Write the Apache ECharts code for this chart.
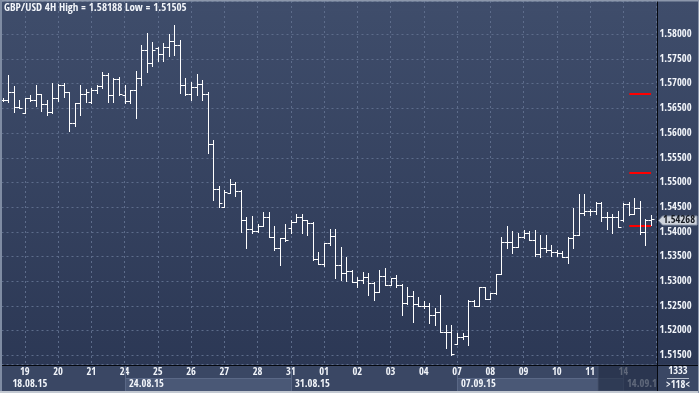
<!DOCTYPE html>
<html>
<head>
<meta charset="utf-8">
<title>GBP/USD 4H</title>
<script src="https://cdn.jsdelivr.net/npm/echarts@6/dist/echarts.min.js"></script>
<style>
html,body{margin:0;padding:0;background:#2c3855;overflow:hidden;}
#chart{width:699px;height:393px;background:linear-gradient(to bottom,#3f4d6b 0px,#2c3855 364px,#3a4764 365px,#3a4764 393px);}
</style>
</head>
<body>
<div id="chart"></div>
<script>
// ---------------- data ----------------
const symbolName = 'GBP/USD';
const timeframe = '4H';
const firstBar = 2;            // index of first visible 4H bar (day 18 starts at bar 0)
const barsPerDay = 6;
const dayLabels = ['18','19','20','21','24','25','26','27','28','31','01','02','03','04','07','08','09','10','11','14'];
const weekLabels = ['18.08.15','24.08.15','31.08.15','07.09.15','14.09.15'];
const weekStartBars = [0, 24, 54, 84, 114];
const topPriceLabel = 1.58;    // highest price label shown on the right scale

const openVals = [
1.5668,1.5668,1.5683,1.5652,1.5640,1.5672,1.5668,1.5679,1.5658,1.5643,
1.5672,1.5697,1.5683,1.5621,1.5660,1.5679,1.5663,1.5687,1.5695,1.5718,
1.5677,1.5709,1.5677,1.5664,1.5687,1.5712,1.5768,1.5741,1.5772,1.5760,
1.5774,1.5787,1.5778,1.5697,1.5679,1.5694,1.5699,1.5679,1.5578,1.5486,
1.5450,1.5478,1.5497,1.5483,1.5424,1.5405,1.5401,1.5412,1.5431,1.5390,
1.5367,1.5387,1.5407,1.5421,1.5430,1.5424,1.5419,1.5345,1.5336,1.5377,
1.5392,1.5333,1.5316,1.5320,1.5299,1.5303,1.5308,1.5296,1.5279,1.5310,
1.5293,1.5306,1.5293,1.5256,1.5270,1.5254,1.5250,1.5250,1.5232,1.5237,
1.5198,1.5198,1.5174,1.5188,1.5189,1.5261,1.5250,1.5288,1.5264,1.5276,
1.5314,1.5380,1.5380,1.5370,1.5389,1.5397,1.5384,1.5355,1.5367,1.5363,
1.5360,1.5358,1.5350,1.5387,1.5393,1.5438,1.5442,1.5442,1.5458,1.5431,
1.5430,1.5430,1.5425,1.5457,1.5437,1.5448,1.5400,1.5425];
const highVals = [
1.5672,1.5718,1.5695,1.5667,1.5672,1.5677,1.5697,1.5679,1.5667,1.5701,
1.5699,1.5701,1.5684,1.5660,1.5697,1.5689,1.5691,1.5697,1.5724,1.5721,
1.5711,1.5714,1.5697,1.5687,1.5726,1.5778,1.5802,1.5785,1.5775,1.5782,
1.5800,1.58188,1.5789,1.5711,1.5704,1.5719,1.5708,1.5684,1.5586,1.5492,
1.5485,1.5508,1.5502,1.5485,1.5431,1.5432,1.5417,1.5441,1.5441,1.5411,
1.5387,1.5416,1.5424,1.5436,1.5436,1.5425,1.5421,1.5360,1.5378,1.5406,
1.5406,1.5370,1.5349,1.5322,1.5309,1.5318,1.5316,1.5299,1.5322,1.5326,
1.5306,1.5313,1.5295,1.5288,1.5280,1.5269,1.5260,1.5256,1.5245,1.5272,
1.5212,1.5212,1.5196,1.5195,1.5262,1.5262,1.5288,1.5288,1.5276,1.5314,
1.5390,1.5412,1.5401,1.5397,1.5403,1.5402,1.5403,1.5394,1.5394,1.5374,
1.5363,1.5361,1.5389,1.5448,1.5477,1.5476,1.5446,1.5460,1.5460,1.5441,
1.5436,1.5443,1.5458,1.5460,1.5469,1.5463,1.5427,1.5434];
const lowVals = [
1.5665,1.5662,1.5643,1.5650,1.5640,1.5664,1.5654,1.5645,1.5637,1.5640,
1.5664,1.5674,1.5605,1.5615,1.5637,1.5662,1.5660,1.5681,1.5691,1.5662,
1.5662,1.5677,1.5660,1.5660,1.5630,1.5697,1.5723,1.5735,1.5745,1.5745,
1.5756,1.5759,1.5682,1.5677,1.5667,1.5677,1.5668,1.5560,1.5465,1.5451,
1.5450,1.5478,1.5473,1.5399,1.5368,1.5397,1.5400,1.5411,1.5390,1.5363,
1.5334,1.5382,1.5397,1.5420,1.5397,1.5394,1.5343,1.5336,1.5330,1.5374,
1.5307,1.5303,1.5300,1.5299,1.5289,1.5296,1.5272,1.5263,1.5278,1.5293,
1.5293,1.5288,1.5231,1.5255,1.5218,1.5250,1.5245,1.5215,1.5212,1.5198,
1.5164,1.51505,1.5173,1.5183,1.5171,1.5249,1.5250,1.5264,1.5264,1.5274,
1.5314,1.5367,1.5357,1.5370,1.5387,1.5384,1.5351,1.5349,1.5360,1.5351,
1.5351,1.5350,1.5338,1.5368,1.5393,1.5435,1.5434,1.5437,1.5423,1.5405,
1.5398,1.5409,1.5423,1.5434,1.5436,1.5396,1.5373,1.5414];
const closeVals = [
1.5668,1.5683,1.5652,1.5651,1.5672,1.5668,1.5679,1.5658,1.5643,1.5672,
1.5697,1.5683,1.5621,1.5660,1.5679,1.5683,1.5687,1.5696,1.5718,1.5677,
1.5709,1.5679,1.5664,1.5687,1.5712,1.5768,1.5741,1.5768,1.5760,1.5774,
1.5787,1.5778,1.5697,1.5679,1.5694,1.5699,1.5679,1.5578,1.5486,1.5459,
1.5481,1.5497,1.5483,1.5424,1.5405,1.5401,1.5412,1.5431,1.5390,1.5367,
1.5387,1.5384,1.5421,1.5430,1.5424,1.5419,1.5345,1.5336,1.5377,1.5392,
1.5333,1.5316,1.5320,1.5299,1.5303,1.5308,1.5296,1.5279,1.5310,1.5293,
1.5306,1.5293,1.5256,1.5270,1.5254,1.5250,1.5250,1.5232,1.5237,1.5198,
1.5198,1.5152,1.5188,1.5189,1.5261,1.5250,1.5288,1.5264,1.5276,1.5314,
1.5380,1.5380,1.5370,1.5389,1.5397,1.5384,1.5355,1.5367,1.5363,1.5360,
1.5358,1.5350,1.5387,1.5393,1.5438,1.5442,1.5442,1.5458,1.5431,1.5430,
1.5430,1.5409,1.5457,1.5437,1.5448,1.5400,1.5425,1.54268];

const levelLines = [1.5679, 1.5520, 1.5413];   // red horizontal levels
const levelFromBar = 115.1, levelToBar = 119.0;
const counterText = '1333';

// ---------------- layout / style ----------------
const FONT = "'Open Sans Condensed','Roboto Condensed','Liberation Sans',sans-serif";
const FS = 10.5;
const TXT = '#f2f5fa';
const GRIDC = '#5d6c8b';
const totalBars = dayLabels.length * barsPerDay;  // 120
const pxPerUnit = 4940;
const refPrice = 1.58, refPx = 34.3;
const gridTopPx = 1, gridBottomPx = 364.5;
const yMax = refPrice + (refPx - gridTopPx) / pxPerUnit;
const yMin = refPrice - (gridBottomPx - refPx) / pxPerUnit;

const rows = openVals.map((o, k) => [firstBar + k, o, highVals[k], lowVals[k], closeVals[k]]);
const hi = Math.max(...highVals), lo = Math.min(...lowVals);
const lastClose = closeVals[closeVals.length - 1];

function renderBar(params, api) {
  const i = api.value(0);
  const pO = api.coord([i, api.value(1)]);
  const pH = api.coord([i, api.value(2)]);
  const pL = api.coord([i, api.value(3)]);
  const pC = api.coord([i, api.value(4)]);
  const x = Math.round(pH[0]) + 0.5;
  const yo = Math.round(pO[1]) + 0.5, yc = Math.round(pC[1]) + 0.5;
  const yh = Math.round(pH[1]), yl = Math.round(pL[1]) + 1;
  const st = {stroke: '#ffffff', lineWidth: 1};
  return {type: 'group', children: [
    {type: 'line', shape: {x1: x, y1: yh, x2: x, y2: yl}, style: st},
    {type: 'line', shape: {x1: x - 3, y1: yo, x2: x + 0.5, y2: yo}, style: st},
    {type: 'line', shape: {x1: x - 0.5, y1: yc, x2: x + 3, y2: yc}, style: st}
  ]};
}

const mainTitle = {
  text: symbolName + ' ' + timeframe + ' High = ' + hi.toFixed(5) + ' Low = ' + lo.toFixed(5),
  left: 4, top: 2, padding: 0, z: 50,
  textStyle: {color: TXT, fontSize: 11, fontWeight: 'normal', fontFamily: FONT, lineHeight: 13}
};

const chart = echarts.init(document.getElementById('chart'), null, {renderer: 'canvas', width: 699, height: 393});
const option = {
  backgroundColor: 'transparent',
  animation: false,
  title: [mainTitle],
  grid: {left: -8.5, right: 42.5, top: gridTopPx, bottom: 393 - gridBottomPx, containLabel: false, outerBoundsMode: 'none'},
  xAxis: {
    type: 'value', min: 0, max: totalBars, interval: barsPerDay,
    axisLine: {show: false},
    axisTick: {show: false},
    axisLabel: {
      color: TXT, fontSize: FS, fontFamily: FONT, margin: 2, lineHeight: 12,
      showMinLabel: false, showMaxLabel: false,
      formatter: v => (v > 0 && v < totalBars) ? dayLabels[Math.round(v / barsPerDay)] : ''
    },
    splitLine: {show: true, lineStyle: {color: GRIDC, width: 1, type: [2, 3]}}
  },
  yAxis: {
    type: 'value', position: 'right', min: yMin, max: yMax,
    splitNumber: 14, minInterval: 0.005, maxInterval: 0.005, scale: true,
    axisLine: {show: false},
    axisTick: {show: false},
    axisLabel: {
      color: TXT, fontSize: FS, fontFamily: FONT, margin: 3,
      formatter: v => (Math.round(v * 100000) % 500 === 0 && v <= topPriceLabel + 1e-9) ? v.toFixed(5) : ''
    },
    splitLine: {show: true, lineStyle: {color: GRIDC, width: 1, type: [2, 3]}}
  },
  series: [{
    type: 'custom',
    renderItem: renderBar,
    encode: {x: 0, y: [1, 2, 3, 4]},
    data: rows,
    z: 5,
    markLine: {
      silent: true, symbol: ['none', 'none'], animation: false,
      label: {show: false},
      lineStyle: {color: '#ff0000', width: 2, type: 'solid'},
      emphasis: {disabled: true},
      data: levelLines.map(l => [{coord: [levelFromBar, l]}, {coord: [levelToBar, l]}])
    }
  }]
};
chart.setOption(option);

// ---------------- decorations (positions from the axes) ----------------
const px = i => chart.convertToPixel({xAxisIndex: 0}, i);
const py = p => chart.convertToPixel({yAxisIndex: 0}, p);
const plotRight = Math.round(px(totalBars)) + 0.5;
const axisY = Math.round(py(yMin)) + 0.5;
const g = [];
const titles = [mainTitle];
const Z = 100;
// text via title components (cy = vertical centre)
const label = (text, x, cy, z, extra) => titles.push(Object.assign({
  text: text, left: x, top: cy - 6, padding: 0, z: z,
  textStyle: Object.assign({color: TXT, fontSize: FS, fontWeight: 'normal', fontFamily: FONT, lineHeight: 12}, (extra && extra.textStyle) || {})
}, extra && extra.textAlign ? {textAlign: extra.textAlign} : {}));

// hide the horizontal grid line above the top price label (not drawn in the reference)
const hideY = Math.round(py(topPriceLabel + 0.005));
g.push({type: 'rect', z: 3, shape: {x: 2, y: hideY - 1, width: plotRight - 2.5, height: 2}, style: {fill: '#3f4d6b'}});

// week boxes and labels
weekStartBars.forEach((b, k) => {
  const x0 = Math.max(px(b), 2);
  const x1 = k + 1 < weekStartBars.length ? px(weekStartBars[k + 1]) : plotRight;
  if (k % 2 === 1) {
    g.push({type: 'rect', z: Z, shape: {x: Math.round(x0) + 0.5, y: 378.5, width: Math.round(x1 - x0), height: 13},
      style: {fill: '#4a5876', stroke: '#5a6886', lineWidth: 1}});
  }
  if (k > 0) {
    g.push({type: 'line', z: Z, shape: {x1: Math.round(x0) + 0.5, y1: 365, x2: Math.round(x0) + 0.5, y2: 391},
      style: {stroke: '#5a6886', lineWidth: 1}});
  }
  label(weekLabels[k], k === 0 ? 12.5 : Math.round(x0) + 4, 384.5, Z + 1);
});
// darker shift overlay at bottom right
g.push({type: 'rect', z: Z + 2, shape: {x: plotRight - 59.5, y: 365, width: 59.5, height: 26},
  style: {fill: 'rgba(38,48,72,0.72)', stroke: 'rgba(70,82,108,0.8)', lineWidth: 1}});
// right column bottom
g.push({type: 'rect', z: Z + 3, shape: {x: plotRight + 0.5, y: 365, width: 699 - plotRight, height: 26}, style: {fill: '#3a4764'}});
label(counterText, 678, 371.5, Z + 4, {textAlign: 'center'});
g.push({type: 'line', z: Z + 4, shape: {x1: 667, y1: 378.5, x2: 689, y2: 378.5}, style: {stroke: '#b4bccb', lineWidth: 1}});
label('>' + rows.length + '<', 678, 385.5, Z + 4, {textAlign: 'center'});
// axis separators
g.push({type: 'line', z: Z + 5, shape: {x1: 0, y1: axisY, x2: 699, y2: axisY}, style: {stroke: '#05080f', lineWidth: 1}});
g.push({type: 'line', z: Z + 5, shape: {x1: plotRight, y1: 0, x2: plotRight, y2: 391}, style: {stroke: '#05080f', lineWidth: 1}});
// price tag for last close
const yc = Math.round(py(lastClose)) + 1.5;
g.push({type: 'polygon', z: Z + 5, shape: {points: [[plotRight + 1, yc], [plotRight + 5, yc - 4.5], [697, yc - 4.5], [697, yc + 4.5], [plotRight + 5, yc + 4.5]]},
  style: {fill: '#cfd4dc', stroke: '#8b95a8', lineWidth: 1}});
label(lastClose.toFixed(5), plotRight + 5.5, yc, Z + 6, {textStyle: {color: '#141820'}});
// outer frame
g.push({type: 'rect', z: Z + 7, shape: {x: 0, y: 0, width: 699, height: 1.5}, style: {fill: '#8c97ab'}});
g.push({type: 'rect', z: Z + 7, shape: {x: 0, y: 0, width: 2, height: 393}, style: {fill: '#7f8ca3'}});
g.push({type: 'rect', z: Z + 7, shape: {x: 0, y: 391, width: 699, height: 2}, style: {fill: '#c3c9d2'}});
g.push({type: 'rect', z: Z + 7, shape: {x: 698, y: 0, width: 1, height: 393}, style: {fill: '#8c97ab'}});

chart.setOption({title: titles, graphic: {elements: g}});
</script>
</body>
</html>
